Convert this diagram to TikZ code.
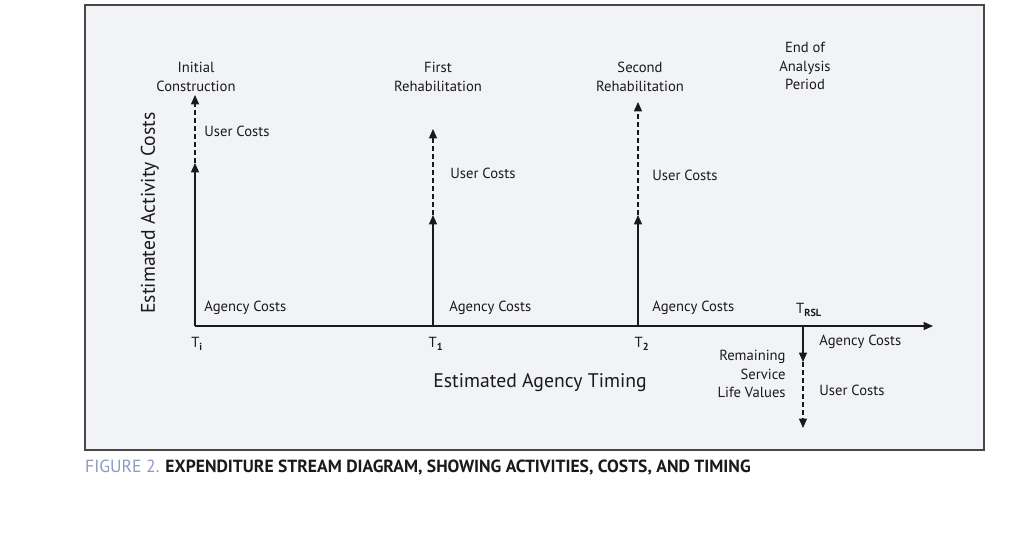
\documentclass[tikz,border=0pt]{standalone}
\usepackage{fontspec}
\setmainfont{PT Sans}
\usetikzlibrary{arrows.meta, positioning}
\definecolor{panelbg}{HTML}{F2F3F7}
\definecolor{figblue}{HTML}{8C9BC0}
\definecolor{inkdark}{HTML}{1A1A1A}
\tikzset{
  panelbox/.style = {draw=inkdark!80, line width=0.9pt, fill=panelbg},
  lbl/.style      = {font=\fontsize{12.5}{16}\selectfont, text=inkdark,
                     inner sep=1pt, align=center},
  axlbl/.style    = {font=\fontsize{16.8}{19}\selectfont, text=inkdark, inner sep=1pt},
  flow/.style     = {-{Triangle[length=2.8mm, width=2.4mm]}, line width=1.1pt, draw=inkdark},
  userflow/.style = {flow, dash pattern=on 1.5mm off 0.9mm},
}

\begin{document}
\begin{tikzpicture}[x=0.3mm, y=-0.3mm]
  \useasboundingbox[fill=white] (0,0) rectangle (1024,548);
  \draw[panelbox] (85,5) rectangle (984,450);

  % base points on the timing axis
  \coordinate (ti)   at (195,326);
  \coordinate (t1)   at (433,326);
  \coordinate (t2)   at (638,326);
  \coordinate (trsl) at (803,326);
  \coordinate (tend) at (933,326);
  % arrow heads of the cost streams
  \coordinate (ti a)   at (195,163);
  \coordinate (ti u)   at (195,95);
  \coordinate (t1 a)   at (433,215);
  \coordinate (t1 u)   at (433,129);
  \coordinate (t2 a)   at (638,215);
  \coordinate (t2 u)   at (638,102);
  \coordinate (trsl a) at (803,362);
  \coordinate (trsl u) at (803,428);

  % axes
  \draw[flow] (ti) -- (tend);

  % cost streams
  \draw[flow]     (ti) -- (ti a);
  \draw[userflow] (ti a) -- (ti u);
  \draw[flow]     (t1) -- (t1 a);
  \draw[userflow] (t1 a) -- (t1 u);
  \draw[flow]     (t2) -- (t2 a);
  \draw[userflow] (t2 a) -- (t2 u);
  \draw[flow]     (trsl) -- (trsl a);
  \draw[userflow] (trsl a) -- (trsl u);

  % activity headings
  \node[lbl] (hdi)   at (196,77) {Initial\\Construction};
  \node[lbl] (hd1)   at (438,77) {First\\Rehabilitation};
  \node[lbl] (hd2)   at (640,77) {Second\\Rehabilitation};
  \node[lbl] (hdend) at (805,66) {End of\\Analysis\\Period};

  % cost labels
  \node[lbl, anchor=west] (ui) at (203,131) {User Costs};
  \node[lbl, anchor=west] (u1) at (449,173) {User Costs};
  \node[lbl, anchor=west] (u2) at (651,175) {User Costs};
  \node[lbl, anchor=west] (ai) at (203,308) {Agency Costs};
  \node[lbl, anchor=west] (a1) at (448,308) {Agency Costs};
  \node[lbl, anchor=west] (a2) at (651,308) {Agency Costs};
  \node[lbl, anchor=west] (ar) at (818,342) {Agency Costs};
  \node[lbl, anchor=west] (ur) at (818,390) {User Costs};
  \node[lbl, align=right, anchor=east] (rsl) at (787,374) {Remaining\\Service\\Life Values};

  % time marks
  \node[lbl] (lti)   at (197,344) {T\textsubscript{\bfseries i}};
  \node[lbl] (lt1)   at (436,344) {T\textsubscript{\bfseries 1}};
  \node[lbl] (lt2)   at (642,344) {T\textsubscript{\bfseries 2}};
  \node[lbl] (ltrsl) at (809,310) {T\textsubscript{\bfseries RSL}};

  % axis titles
  \node[axlbl] (xttl) at (540,383) {Estimated Agency Timing};
  \node[axlbl, rotate=90] (yttl) at (150,213) {Estimated Activity Costs};

  % caption
  \node[anchor=west, inner sep=0pt, font=\fontsize{15}{17}\selectfont\bfseries] (cap) at (85,468)
    {\textcolor{figblue}{\mdseries FIGURE 2.} \textcolor{inkdark}{EXPENDITURE STREAM DIAGRAM, SHOWING ACTIVITIES, COSTS, AND TIMING}};
\end{tikzpicture}
\end{document}
